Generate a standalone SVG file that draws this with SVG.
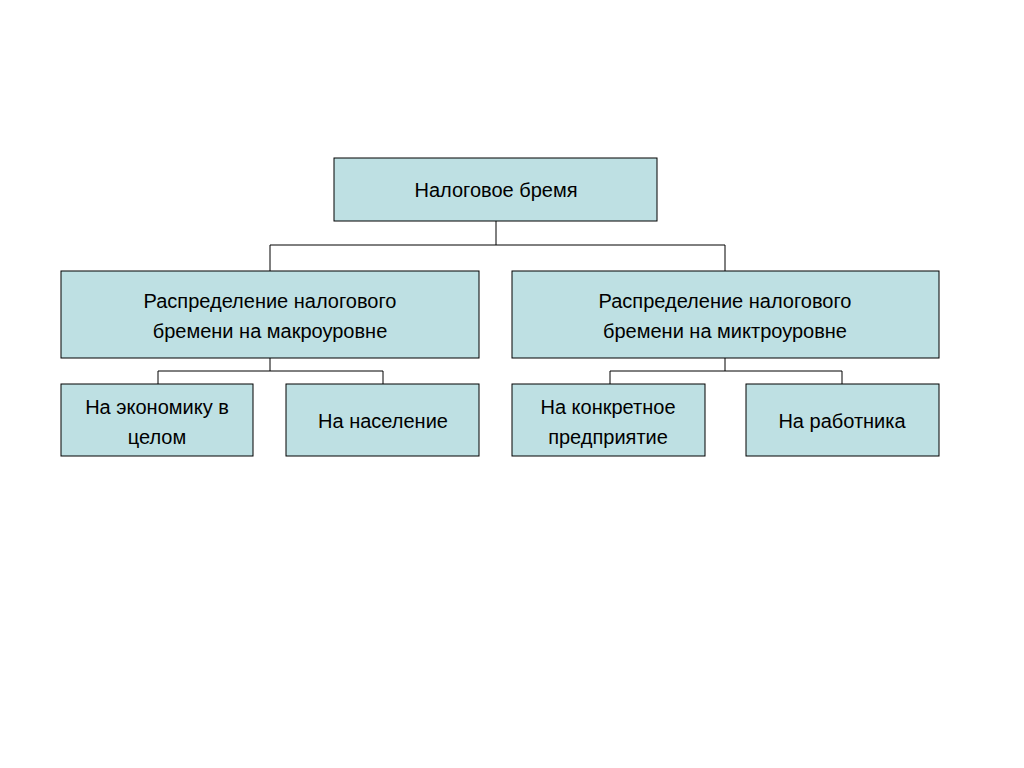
<svg xmlns="http://www.w3.org/2000/svg" width="1024" height="768" viewBox="0 0 1024 768">
<style>
.b{fill:#BEE0E3;stroke:#000;stroke-width:1}
.t{font-family:"Liberation Sans",Arial,sans-serif;font-size:20px;fill:#000;text-anchor:middle}
.c{fill:none;stroke:#000;stroke-width:1}
</style>
<rect width="1024" height="768" fill="#fff"/>
<g id="connectors">
<path class="c" d="M496 221V245M270 245H725M270 245V271M725 245V271"/>
<path class="c" d="M270 358V371M158 371H383M158 371V384M383 371V384"/>
<path class="c" d="M725 358V371M610 371H842M610 371V384M842 371V384"/>
</g>
<g id="n0"><rect class="b" x="334" y="158" width="323" height="63"/><text class="t" x="496" y="197">Налоговое бремя</text></g>
<g id="n1"><rect class="b" x="61" y="271" width="418" height="87"/><text class="t" x="270" y="308">Распределение налогового</text><text class="t" x="270" y="338">бремени на макроуровне</text></g>
<g id="n2"><rect class="b" x="512" y="271" width="427" height="87"/><text class="t" x="725" y="308">Распределение налогового</text><text class="t" x="725" y="338">бремени на миктроуровне</text></g>
<g id="n3"><rect class="b" x="61" y="384" width="192" height="72"/><text class="t" x="157" y="414">На экономику в</text><text class="t" x="157" y="444">целом</text></g>
<g id="n4"><rect class="b" x="286" y="384" width="193" height="72"/><text class="t" x="383" y="428">На население</text></g>
<g id="n5"><rect class="b" x="512" y="384" width="193" height="72"/><text class="t" x="608" y="414">На конкретное</text><text class="t" x="608" y="444">предприятие</text></g>
<g id="n6"><rect class="b" x="746" y="384" width="193" height="72"/><text class="t" x="842" y="428">На работника</text></g>
</svg>
